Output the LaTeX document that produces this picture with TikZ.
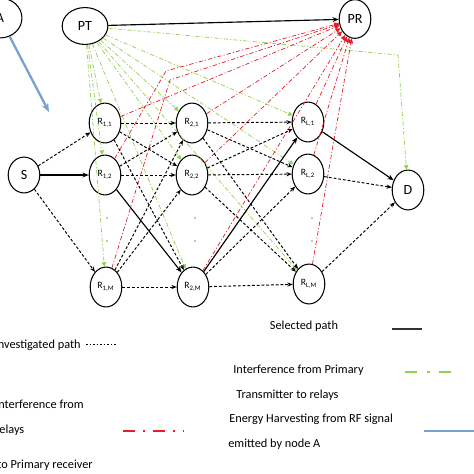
\documentclass[tikz,border=0pt]{standalone}
\usepackage{fontspec}
\setmainfont{Carlito}
\usepackage{tikz}
\usetikzlibrary{arrows.meta,shapes.geometric,positioning,calc}

\definecolor{intgreen}{RGB}{146,208,80}
\definecolor{intred}{RGB}{226,30,40}
\definecolor{ehblue}{RGB}{120,160,210}

\begin{document}
\begin{tikzpicture}[x=0.02cm, y=-0.02cm,
    nd/.style={draw, ellipse, inner sep=0pt, minimum width=18pt, minimum height=22.7pt, fill=white, line width=0.6pt, font=\fontsize{8}{9}\selectfont},
    rel/.style={nd, font=\fontsize{5.5}{6}\selectfont},
    inv/.style={-{Stealth[length=3pt,width=2.4pt]}, line width=0.55pt, dash pattern=on 1.6pt off 1.1pt},
    sel/.style={-{Stealth[length=3.5pt,width=2.8pt]}, line width=0.65pt},
    pti/.style={-{Triangle[length=2.5pt,width=2.5pt]}, intgreen, line width=0.4pt, dash pattern=on 2.5pt off 1.2pt on 0.6pt off 1.2pt},
    rli/.style={-{Triangle[length=2.8pt,width=2.6pt]}, intred, line width=0.4pt, dash pattern=on 2.5pt off 1.2pt on 0.6pt off 1.2pt},
    leg/.style={font=\fontsize{7}{8}\selectfont, inner sep=0pt}
]
\path[use as bounding box, clip] (0,0) rectangle (474,474);

% nodes
\node[nd, minimum width=25pt] (a) at (0,18) {A};
\node[nd, minimum width=26pt, minimum height=21pt] (pt) at (85,26) {PT};
\node[nd, minimum height=22pt] (pr) at (355,19) {PR};
\node[nd, minimum height=20.4pt] (s) at (24,175) {S};
\node[nd] (d) at (408,190) {D};

\node[rel] (r11) at (105,123) {R\textsubscript{1,1}};
\node[rel] (r12) at (105,175) {R\textsubscript{1,2}};
\node[rel] (r1M) at (106,287) {R\textsubscript{1,M}};
\node[rel] (r21) at (192,123) {R\textsubscript{2,1}};
\node[rel] (r22) at (192,175) {R\textsubscript{2,2}};
\node[rel] (r2M) at (193,287) {R\textsubscript{2,M}};
\node[rel] (r31) at (308,122) {R\textsubscript{L,1}};
\node[rel] (r32) at (308,174) {R\textsubscript{L,2}};
\node[rel] (r3M) at (309,284) {R\textsubscript{L,M}};

\foreach \x in {107,195,312}
  \foreach \y in {218,241}
    \fill (\x,\y) circle (0.35pt);

\coordinate (gbend) at (398,55);
\coordinate (rbenda) at (166,71);
\coordinate (rbendb) at (170,80);
\coordinate (ehend) at (49,112);

% interference from PT to relays
\foreach \n in {11,12,1M,21,22,2M,31,32,3M}
  \draw[pti] (pt) -- (r\n);
\draw[pti] (pt) -- (gbend) -- (d);

% interference from relays to PR
\foreach \n in {11,21,22,2M,31,32,3M}
  \draw[rli] (r\n) -- (pr);
\draw[rli] (r12) -- (rbenda) -- (pr);
\draw[rli] (r1M) -- (rbendb) -- (pr);

% investigated and selected paths
\draw[inv] (s) -- (r11);
\draw[sel] (s) -- (r12);
\draw[inv] (s) -- (r1M);
\foreach \a/\b in {1/1,1/2,1/M,2/1,2/2,M/1,M/2,M/M}
  \draw[inv] (r1\a) -- (r2\b);
\draw[sel] (r12) -- (r2M);
\foreach \a/\b in {1/1,1/2,1/M,2/1,2/2,2/M,M/2,M/M}
  \draw[inv] (r2\a) -- (r3\b);
\draw[sel] (r2M) -- (r31);
\draw[sel] (r31) -- (d);
\draw[inv] (r32) -- (d);
\draw[inv] (r3M) -- (d);
\draw[sel] (pt) -- (pr);
\draw[-{Stealth[length=5pt,width=4pt]}, ehblue, line width=1.3pt] (a) -- (ehend);

% legend
\node[leg, anchor=east] (leginv) at (81,345) {Investigated path};
\draw[line width=0.5pt, dash pattern=on 1pt off 1pt] (86,344) -- (117,344);
\node[leg] (legsel) at (304,326) {Selected path};
\draw[line width=0.6pt, black!80] (392,329) -- (422,329);
\node[leg, anchor=west] (legpt1) at (233,370) {Interference from Primary};
\node[leg, anchor=west] (legpt2) at (236,395) {Transmitter to relays};
\draw[intgreen, line width=1.2pt, dash pattern=on 6.8pt off 5.7pt on 1.7pt off 5.1pt] (405,372) -- (453,372);
\node[leg, anchor=east] (legre1) at (84,404) {Interference from};
\node[leg, anchor=west] (legre2) at (legre1.west |- 0,430) {relays};
\node[leg, anchor=east] (legre3) at (93,465) {to Primary receiver};
\draw[intred, line width=1.7pt, dash pattern=on 6.8pt off 4.5pt on 1.2pt off 4.5pt] (123,431) -- (183,431);
\node[leg, anchor=west] (legeh1) at (229,419) {Energy Harvesting from RF signal};
\node[leg, anchor=west] (legeh2) at (228,444) {emitted by node A};
\draw[ehblue, line width=1.3pt] (424,431) -- (480,431);
\end{tikzpicture}
\end{document}
